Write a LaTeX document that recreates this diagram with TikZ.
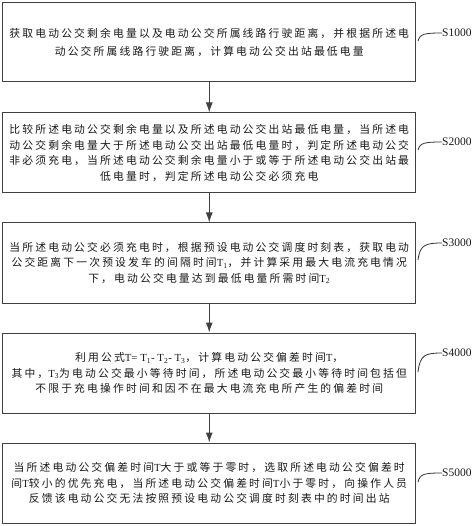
\documentclass[tikz,border=0pt]{standalone}
\usepackage{fontspec}
\setmainfont{Liberation Serif}
\newfontfamily\cjk{Noto Sans CJK SC}[LetterSpace=20]
\newfontfamily\lat{Liberation Serif}
\usetikzlibrary{arrows.meta}
\newcommand{\Tsub}[1]{{\lat T\textsubscript{#1}}}
\newcommand{\TT}{{\lat T}}
\tikzset{
  stepbox/.style={draw=black!75, line width=1pt, rectangle, minimum width=413pt,
    minimum height=80pt, inner sep=0pt, align=center, text=black!90,
    font=\cjk\fontsize{10.8}{15.5}\selectfont},
  flow/.style={draw=black!75, line width=1pt, -{Latex[length=10pt,width=7pt]}},
  lab/.style={anchor=west, inner sep=0pt, font=\lat\fontsize{11.5}{13}\selectfont, text=black!90},
  lead/.style={draw=black!80, line width=0.8pt}
}
\begin{document}
\begin{tikzpicture}[x=1pt,y=-1pt]
\useasboundingbox (0,0) rectangle (474,526);
\fill[white] (0,0) rectangle (474,526);

\node[stepbox, minimum height=79pt, font=\cjk\fontsize{10.8}{18}\selectfont] (b1) at (209.25,42.5)
  {获取电动公交剩余电量以及电动公交所属线路行驶距离，并根据所述电\\动公交所属线路行驶距离，计算电动公交出站最低电量};
\node[stepbox] (b2) at (209.25,153)
  {比较所述电动公交剩余电量以及所述电动公交出站最低电量，当所述电\\动公交剩余电量大于所述电动公交出站最低电量时，判定所述电动公交\\非必须充电，当所述电动公交剩余电量小于或等于所述电动公交出站最\\低电量时，判定所述电动公交必须充电};
\node[stepbox] (b3) at (209.25,263)
  {当所述电动公交必须充电时，根据预设电动公交调度时刻表，获取电动\\公交距离下一次预设发车的间隔时间\Tsub{1}，并计算采用最大电流充电情况\\下，电动公交电量达到最低电量所需时间\Tsub{2}};
\node[stepbox] (b4) at (209.25,373)
  {利用公式{\lat T= T\textsubscript{1}- T\textsubscript{2}- T\textsubscript{3}}，计算电动公交偏差时间\TT，\\其中，\Tsub{3}为电动公交最小等待时间，所述电动公交最小等待时间包括但\\不限于充电操作时间和因不在最大电流充电所产生的偏差时间};
\node[stepbox] (b5) at (209.25,483)
  {当所述电动公交偏差时间\TT 大于或等于零时，选取所述电动公交偏差时\\间\TT 较小的优先充电，当所述电动公交偏差时间\TT 小于零时，向操作人员\\反馈该电动公交无法按照预设电动公交调度时刻表中的时间出站};

\draw[flow] (b1.south) -- (b2.north);
\draw[flow] (b2.south) -- (b3.north);
\draw[flow] (b3.south) -- (b4.north);
\draw[flow] (b4.south) -- (b5.north);

\node[lab] (l1) at (442,33) {S1000};
\node[lab] (l2) at (442,142) {S2000};
\node[lab] (l3) at (442,243) {S3000};
\node[lab] (l4) at (442,353) {S4000};
\node[lab] (l5) at (442,473) {S5000};

\coordinate (c1) at (418,41);
\coordinate (c2) at (418,150);
\coordinate (c3) at (418,260);
\coordinate (c4) at (418,372);
\coordinate (c5) at (418,482);

\draw[lead] (c1) .. controls (420,34) and (424,33) .. (l1.west);
\draw[lead] (c2) .. controls (420,143) and (424,142) .. (l2.west);
\draw[lead] (c3) .. controls (420,245) and (425,243) .. (l3.west);
\draw[lead] (c4) .. controls (420,355) and (425,353) .. (l4.west);
\draw[lead] (c5) .. controls (420,474) and (424,473) .. (l5.west);
\end{tikzpicture}
\end{document}
